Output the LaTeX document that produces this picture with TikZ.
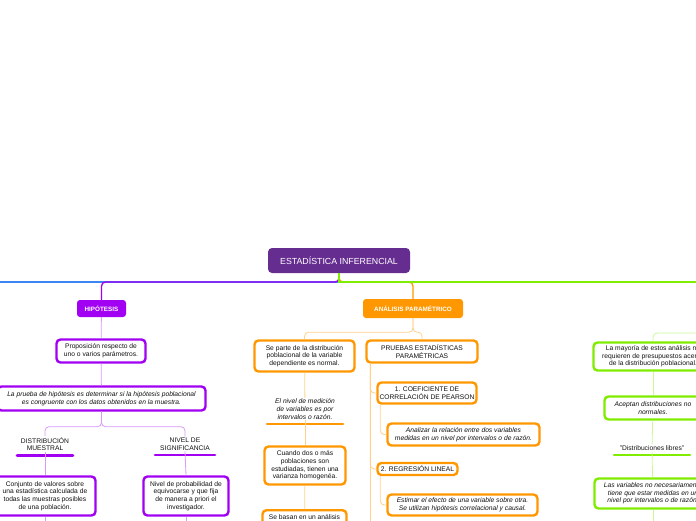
\documentclass[tikz,border=0pt]{standalone}
\usepackage{fontspec}
\setmainfont{Liberation Sans}
\usepackage{xcolor}
\definecolor{EIRoot}{HTML}{662D91}
\definecolor{EIViolet}{HTML}{A100F2}
\definecolor{EIOrange}{HTML}{FF9800}
\definecolor{EIGreen}{HTML}{80EC00}
\definecolor{EIBlue}{HTML}{3D85F5}
\definecolor{EIInk}{HTML}{111111}
\usetikzlibrary{calc}
\newcommand{\eibody}{\fontsize{6.7}{7.7}\selectfont}

\begin{document}
\begin{tikzpicture}[
  x=1pt,y=-1pt,
  every node/.style={text=EIInk,font=\eibody},
  tag/.style={rounded corners=3pt,text=white,font=\fontsize{6.3}{7}\selectfont\bfseries,minimum height=17pt,inner sep=2pt},
  root/.style={fill=EIRoot,rounded corners=4pt,text=white,font=\fontsize{8.8}{10}\selectfont,minimum width=142pt,minimum height=25pt},
  box/.style={draw,line width=2.4pt,rounded corners=4pt,fill=white,align=center,inner sep=2pt},
  vbox/.style={box,draw=EIViolet},
  obox/.style={box,draw=EIOrange},
  gbox/.style={box,draw=EIGreen},
  topic/.style={align=center,inner sep=1pt},
  link/.style={line width=0.8pt,rounded corners=4pt},
  vlink/.style={link,draw=EIViolet!40},
  olink/.style={link,draw=EIOrange!45},
  glink/.style={link,draw=EIGreen!40},
  rule/.style={line width=2.6pt,line cap=round}
]
  \useasboundingbox (0,0) rectangle (696,520);
  \clip (0,0) rectangle (696,520);

  % trunk
  \node[root] (root) at (339,260.5) {ESTADÍSTICA INFERENCIAL};
  \node[tag,fill=EIViolet,minimum width=49pt] (hyp) at (101.5,308.5) {HIPÓTESIS};
  \node[tag,fill=EIOrange,minimum width=100pt,minimum height=19pt] (param) at (413,308.5) {ANÁLISIS PARAMÉTRICO};
  \coordinate (westEnd) at (-5,282);
  \coordinate (eastEnd) at (701,282);
  \coordinate (noparIn) at (701,333);

  % hipotesis branch
  \node[vbox,minimum width=89pt,minimum height=23pt] (prop) at (101,351) {Proposición respecto de\\uno o varios parámetros.};
  \node[vbox,minimum width=208pt,minimum height=24pt,font=\eibody\itshape] (prueba) at (101.5,398.5) {La prueba de hipótesis es determinar si la hipótesis poblacional\\es congruente con los datos obtenidos en la muestra.};
  \node[topic] (dist) at (45,444) {DISTRIBUCIÓN\\MUESTRAL};
  \node[topic] (nivel) at (185,444) {NIVEL DE\\SIGNIFICANCIA};
  \node[vbox,minimum width=101pt,minimum height=39pt] (conj) at (45,496) {Conjunto de valores sobre\\una estadística calculada de\\todas las muestras posibles\\de una población.};
  \node[vbox,minimum width=85pt,minimum height=39pt] (signif) at (186,496) {Nivel de probabilidad de\\equivocarse y que fija\\de manera a priori el\\investigador.};

  % parametrico branch
  \node[obox,minimum width=100pt,minimum height=31pt] (base) at (304.5,356) {Se parte de la distribución\\poblacional de la variable\\dependiente es normal.};
  \node[topic,font=\eibody\itshape] (medic) at (305,409) {El nivel de medición\\de variables es por\\intervalos o razón.};
  \node[obox,minimum width=81pt,minimum height=38pt] (homog) at (305,465.5) {Cuando dos o más\\poblaciones son\\estudiadas, tienen una\\varianza homogenéa.};
  \node[obox,minimum width=84pt,anchor=north,inner ysep=4pt,text depth=30pt] (basan) at (304.5,509) {Se basan en un análisis};
  \node[obox,minimum width=111pt,minimum height=22pt] (tests) at (422,351.5) {PRUEBAS ESTADÍSTICAS\\PARAMÉTRICAS};
  \node[obox,minimum width=99pt,minimum height=21pt] (pearson) at (427,393) {1. COEFICIENTE DE\\CORRELACIÓN DE PEARSON};
  \node[obox,minimum width=152pt,minimum height=22pt,font=\eibody\itshape] (relac) at (463.5,434.5) {Analizar la relación entre dos variables\\medidas en un nivel por intervalos o de razón.};
  \node[obox,minimum width=80pt,minimum height=12pt] (regres) at (417.5,469) {2. REGRESIÓN LINEAL};
  \node[obox,minimum width=150pt,minimum height=21pt,font=\eibody\itshape] (efecto) at (462.5,505) {Estimar el efecto de una variable sobre otra.\\Se utilizan hipótesis correlacional y causal.};

  % no parametrico side
  \node[gbox,minimum width=119pt,minimum height=28pt] (mayoria) at (653,356.5) {La mayoría de estos análisis no\\requieren de presupuestos acerca\\de la distribución poblacional.};
  \node[gbox,minimum width=97pt,minimum height=23pt,font=\eibody\itshape] (normal) at (653,408) {Aceptan distribuciones no\\normales.};
  \node[topic] (libres) at (652,448) {"Distribuciones libres"};
  \node[gbox,minimum width=117pt,minimum height=30pt,font=\eibody\itshape] (lasvar) at (653,493.5) {Las variables no necesariamente\\tiene que estar medidas en un\\nivel por intervalos o de razón.};

  \foreach \t/\c/\w in {dist/EIViolet/28,nivel/EIViolet/30,medic/EIOrange/38,libres/EIGreen/38}
    \draw[rule,\c] ($(\t.south)+(-\w,3.5)$) -- ($(\t.south)+(\w,3.5)$);

  % main lines
  \draw[EIBlue,line width=1.3pt] (root.south) |- (westEnd);
  \draw[EIViolet,line width=1.3pt,rounded corners=4pt] (root.south) -- (root.south |- westEnd) -| (hyp.north);
  \draw[EIOrange,line width=1.3pt,rounded corners=4pt] (root.south) -- (root.south |- eastEnd) -| (param.north);
  \draw[EIGreen,line width=1.3pt] (root.south) |- (eastEnd);

  % violet links
  \draw[vlink] (hyp) -- (prop);
  \draw[vlink] (prop) -- (prueba);
  \draw[vlink] (prueba.south) -- ++(0,15) -| (dist.north);
  \draw[vlink] (prueba.south) -- ++(0,15) -| (nivel.north);
  \draw[vlink] (dist.south) -- (conj.north);
  \draw[vlink] (nivel.south) -- (signif.north);
  \draw[vlink] (conj.south) -- ++(0,10);
  \draw[vlink] (signif.south) -- ++(0,10);

  % orange links
  \draw[olink] (param.south) -- ++(0,14) -| (base.north);
  \draw[olink] (param.south) -- ++(0,14) -| (tests.north);
  \draw[olink] (base) -- (medic);
  \draw[olink] (medic.south) -- (homog);
  \draw[olink] (homog) -- (basan);
  \draw[olink] ($(tests.south west)+(5,0)$) -- ++(0,170);
  \draw[olink] ($(tests.south west)+(5,0)$) |- (pearson.west);
  \draw[olink] ($(tests.south west)+(5,0)$) |- (regres.west);
  \draw[olink] ($(pearson.south west)+(4,0)$) |- (relac.west);
  \draw[olink] ($(regres.south west)+(4,0)$) |- (efecto.west);

  % green links
  \draw[glink] (noparIn) -| (mayoria.north);
  \draw[glink] (mayoria) -- (normal);
  \draw[glink] (normal) -- (libres);
  \draw[glink] (libres.south) -- (lasvar);
  \draw[glink] (lasvar.south) -- ++(0,20);
\end{tikzpicture}
\end{document}
